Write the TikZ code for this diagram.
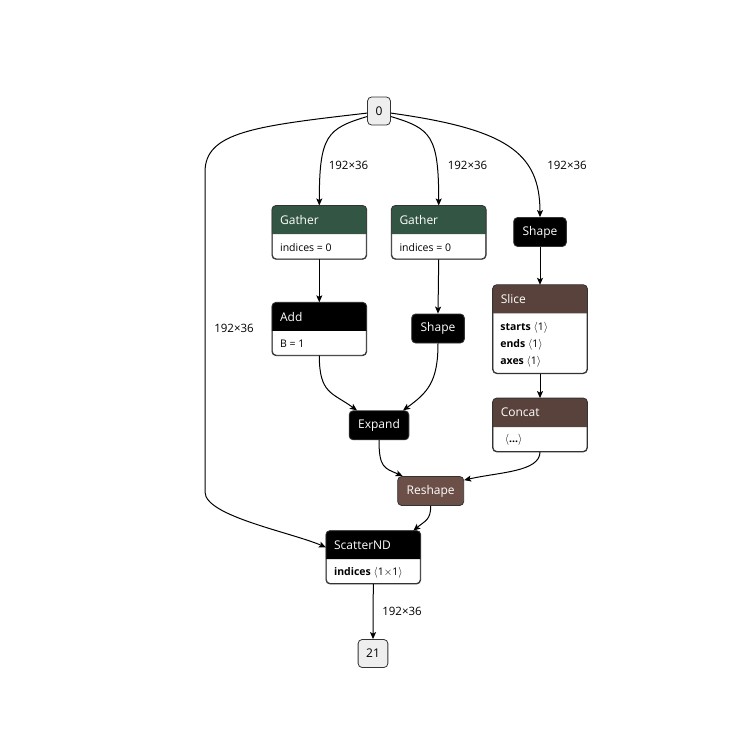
\documentclass[tikz,border=0pt]{standalone}
\usepackage{fontspec}
\setmainfont{Open Sans}
\usetikzlibrary{arrows.meta}
\definecolor{transcol}{RGB}{51,85,68}
\definecolor{tensorcol}{RGB}{89,66,59}
\definecolor{shapecol}{RGB}{108,79,71}
\definecolor{iofill}{RGB}{238,238,238}
\definecolor{boxline}{RGB}{51,51,51}

\newcommand{\hdfont}{\fontsize{12}{14}\selectfont}
\newcommand{\attrfont}{\fontsize{10.5}{12}\selectfont}
\newcommand{\lblfont}{\fontsize{11.5}{13}\selectfont}

% coloured title strip of an operator box: node, colour, strip height, title
\newcommand{\opheader}[4]{%
  \fill[#2] ([yshift=-#3]#1.north west) [rounded corners=4pt] -- (#1.north west)
    -- (#1.north east) [sharp corners] -- ([yshift=-#3]#1.north east) -- cycle;
  \draw[opline] (#1.north west) rectangle (#1.south east);
  \node[hdtext] (#1-title) at ([xshift=8pt,yshift=-#3/2]#1.north west) {#4};
}

\tikzset{
  opline/.style={draw=boxline, line width=0.8pt, rounded corners=4pt},
  opbox/.style={rectangle, draw=boxline, line width=0.8pt, rounded corners=4pt,
    minimum width=94pt, inner sep=0pt},
  blackop/.style={rectangle, fill=black, draw=boxline, line width=0.8pt,
    rounded corners=4pt, text=white, font=\hdfont, minimum height=29pt,
    inner xsep=9pt, inner ysep=0pt},
  ionode/.style={rectangle, fill=iofill, draw=boxline, line width=0.8pt,
    rounded corners=4pt, font=\hdfont, minimum height=28pt, inner xsep=8pt},
  hdtext/.style={anchor=west, text=white, font=\hdfont, inner sep=0pt},
  attr/.style={anchor=west, font=\attrfont, inner sep=0pt},
  elabel/.style={font=\lblfont, inner sep=0pt},
  flow/.style={line width=1pt, -{Stealth[length=7pt,width=6pt,inset=1.5pt]}},
}

\begin{document}
\begin{tikzpicture}[x=1pt, y=-1pt]
\useasboundingbox (0,0) rectangle (729,752);

% ---- graph input / output ----
\node[ionode] (zero) at (379,111) {0};
\node[ionode] (out21) at (373,653.5) {21};

% ---- Gather pair ----
\node[opbox, minimum height=53pt] (gatherA) at (319.3,232.4) {};
\opheader{gatherA}{transcol}{28.5pt}{Gather}
\node[attr] (gatherA-a) at ([xshift=8pt,yshift=11.5pt]gatherA.south west) {indices = 0};

\node[opbox, minimum height=53pt] (gatherB) at (438.7,232.4) {};
\opheader{gatherB}{transcol}{28.5pt}{Gather}
\node[attr] (gatherB-a) at ([xshift=8pt,yshift=11.5pt]gatherB.south west) {indices = 0};

% ---- Add ----
\node[opbox, minimum height=52.5pt] (add) at (319.3,329) {};
\opheader{add}{black}{28.5pt}{Add}
\node[attr] (add-a) at ([xshift=8pt,yshift=11.5pt]add.south west) {B = 1};

% ---- Shape ops ----
\node[blackop] (shapeA) at (540,232) {Shape};
\node[blackop] (shapeB) at (438,328.5) {Shape};

% ---- Slice ----
\node[opbox, minimum height=88pt] (slice) at (540,329.2) {};
\opheader{slice}{tensorcol}{28.5pt}{Slice}
\node[attr] (slice-a) at ([xshift=7.5pt,yshift=46pt]slice.south west) {\textbf{starts} $\langle$1$\rangle$};
\node[attr] (slice-b) at ([xshift=7.5pt,yshift=29pt]slice.south west) {\textbf{ends} $\langle$1$\rangle$};
\node[attr] (slice-c) at ([xshift=7.5pt,yshift=11.5pt]slice.south west) {\textbf{axes} $\langle$1$\rangle$};

% ---- Concat ----
\node[opbox, minimum height=53pt] (concat) at (540,425) {};
\opheader{concat}{tensorcol}{29pt}{Concat}
\node[attr] (concat-a) at ([xshift=12pt,yshift=12pt]concat.south west) {$\langle$\textbf{...}$\rangle$};

% ---- Expand / Reshape ----
\node[blackop] (expand) at (379,425.3) {Expand};
\node[blackop, fill=shapecol] (reshape) at (430.7,491) {Reshape};

% ---- ScatterND ----
\node[opbox, minimum height=52.5pt] (scatter) at (373.3,557.3) {};
\opheader{scatter}{black}{28.5pt}{ScatterND}
\node[attr] (scatter-a) at ([xshift=8pt,yshift=11pt]scatter.south west) {\textbf{indices} $\langle$1$\times$1$\rangle$};

% ---- edges out of 0 ----
\draw[flow] (zero.205) .. controls +(-40,12) and +(0,-70) .. (gatherA.north);
\draw[flow] (zero.-25) .. controls +(40,12) and +(0,-70) .. (gatherB.north);
\draw[flow] (zero.-10) .. controls +(115,16) and +(0,-65) .. (shapeA.north);
\draw[flow] (zero.190) .. controls (255,126) and (205,132) .. (205,172)
  -- (205,492) .. controls (205,516) and (290,532) .. ([yshift=10pt]scatter.west);
\node[elabel] (lbl-ga) at (348.5,165) {192×36};
\node[elabel] (lbl-gb) at (467.5,165) {192×36};
\node[elabel] (lbl-sh) at (567,165) {192×36};
\node[elabel] (lbl-sc) at (234,328) {192×36};

% ---- inner edges ----
\draw[flow] (gatherA.south) -- (add.north);
\draw[flow] (gatherB.south) -- (shapeB.north);
\draw[flow] (shapeA.south) -- (slice.north);
\draw[flow] (slice.south) -- (concat.north);
\draw[flow] (add.south) .. controls +(0,38) and +(-25,-18) .. ([xshift=-22pt]expand.north);
\draw[flow] (shapeB.south) .. controls +(0,38) and +(25,-18) .. ([xshift=24pt]expand.north);
\draw[flow] (expand.south) .. controls +(0,28) and +(-18,-8) .. ([xshift=-28pt]reshape.north);
\draw[flow] (concat.south) .. controls +(0,20) and +(35,-8) .. ([yshift=-4pt]reshape.north east);
\draw[flow] (reshape.south) .. controls +(0,14) and +(12,-10) .. ([xshift=40pt]scatter.north);

% ---- output ----
\draw[flow] (scatter.south) -- (out21.north);
\node[elabel] (lbl-out) at (402,611) {192×36};

\end{tikzpicture}
\end{document}
